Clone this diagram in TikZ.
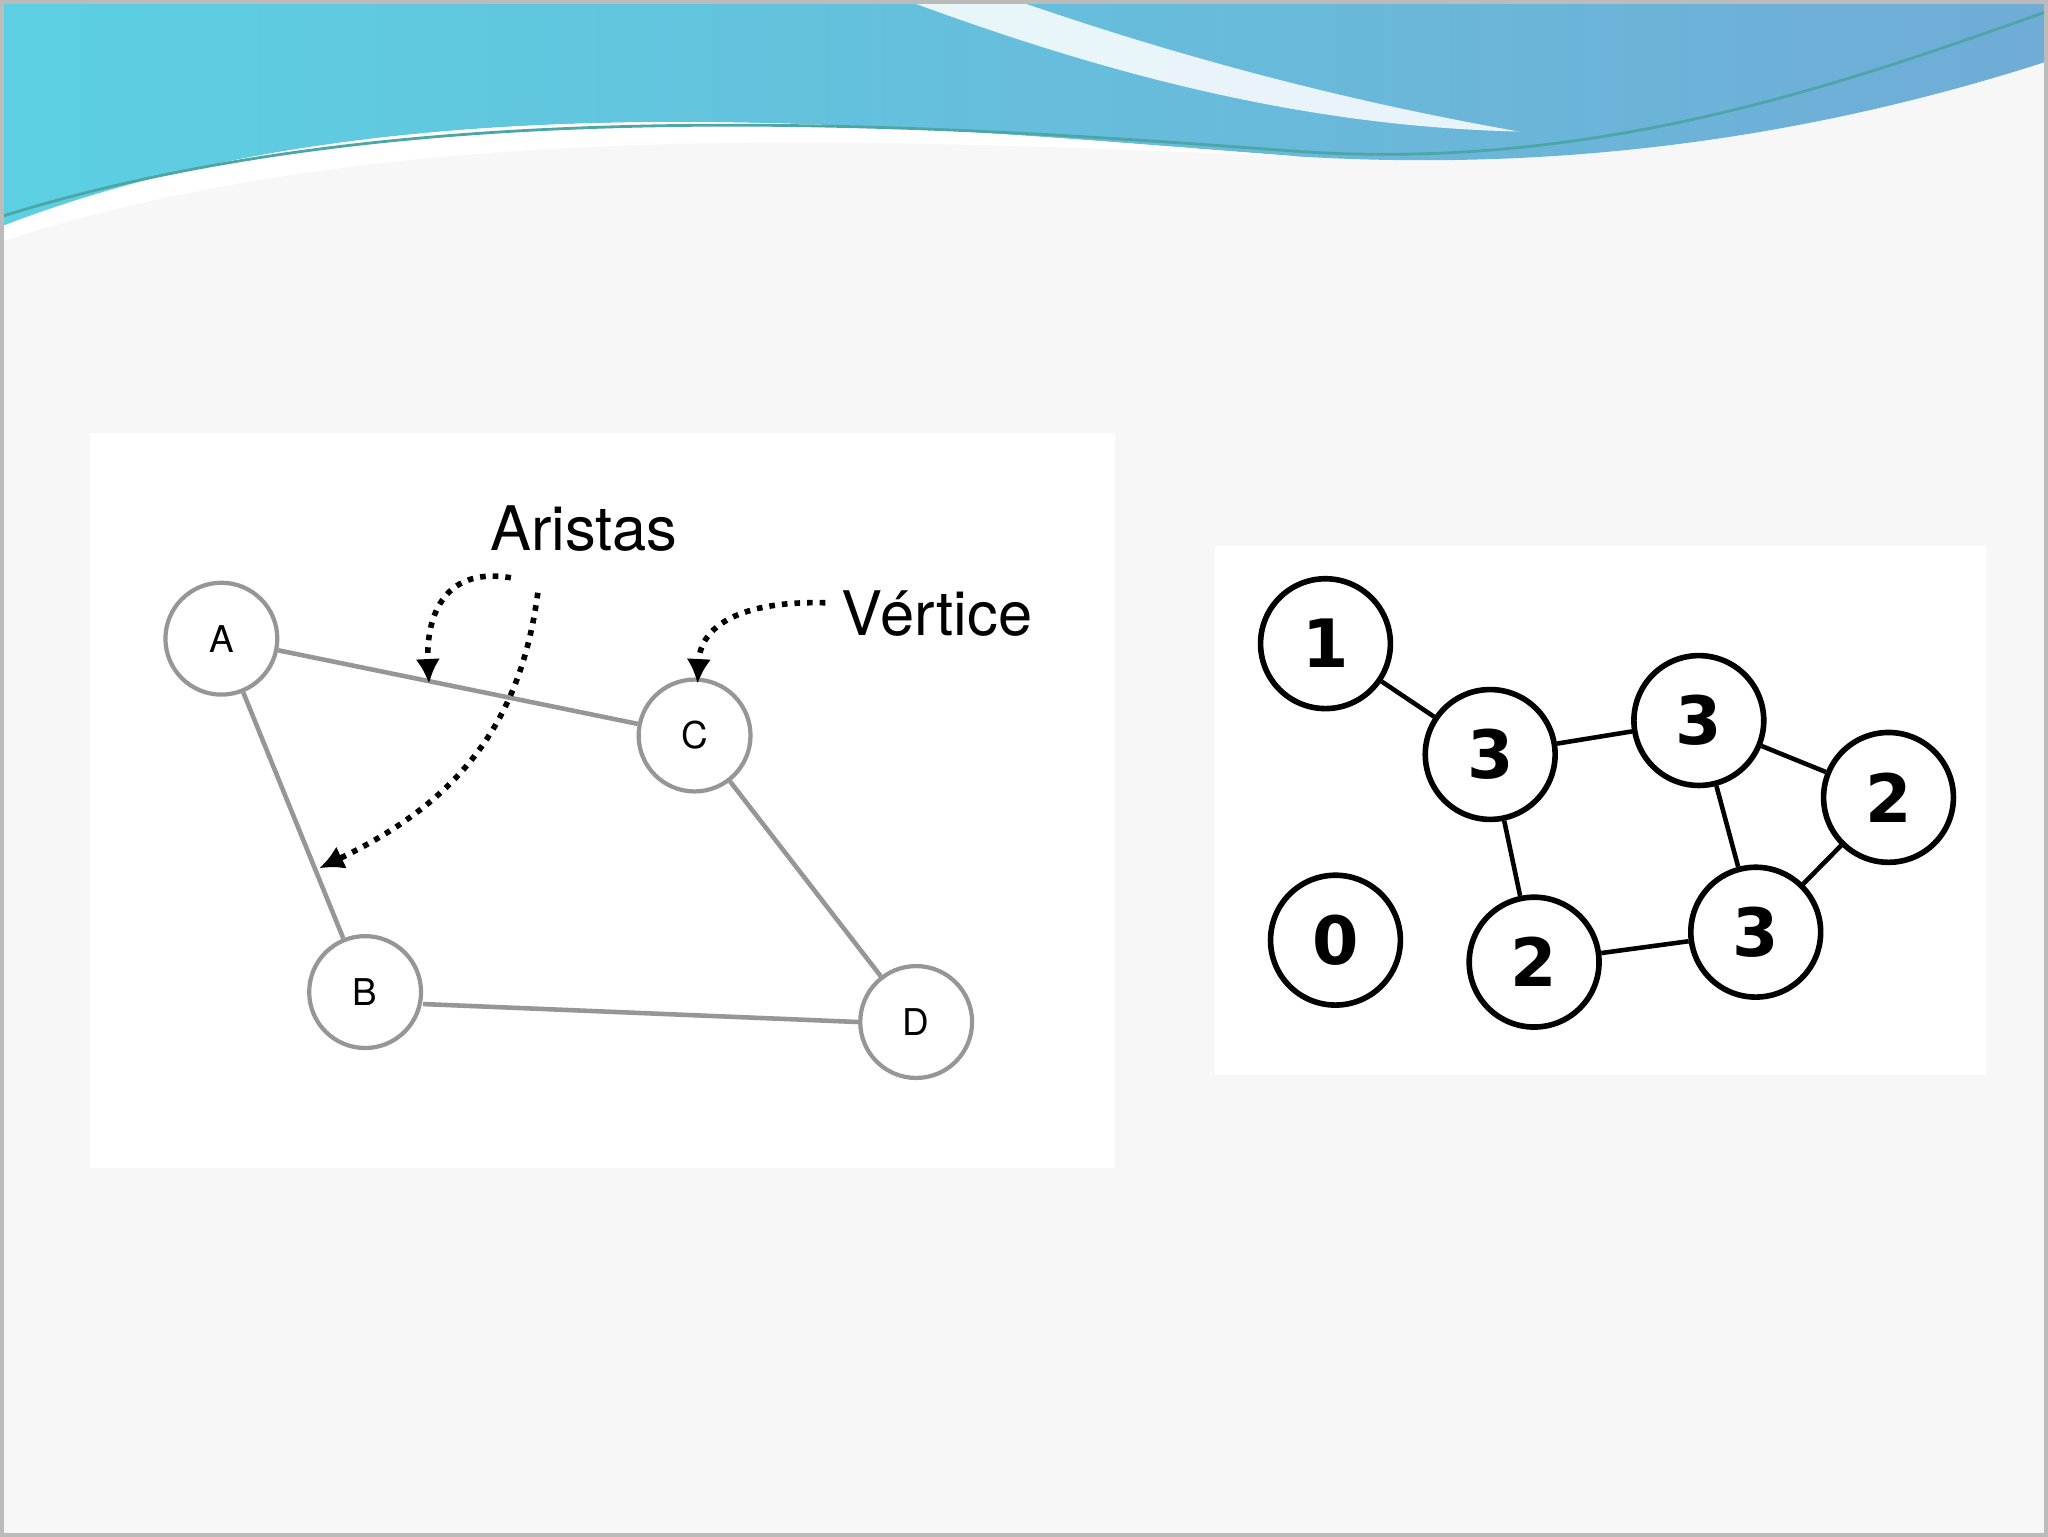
\documentclass[tikz,border=0pt]{standalone}
\usepackage{fontspec}
\setmainfont{TeX Gyre Heros}
\newfontfamily\boldfont{DejaVu Sans}
\usetikzlibrary{arrows.meta,positioning}
\definecolor{slidebg}{RGB}{247,247,247}
\definecolor{edgegray}{RGB}{150,150,150}
\definecolor{wavecyan}{RGB}{92,208,226}
\definecolor{waveblue}{RGB}{112,172,214}

\begin{document}
\begin{tikzpicture}[
    x=0.01cm, y=-0.01cm,
    vtx/.style={circle, draw=edgegray, line width=1.2pt, fill=white, minimum size=1.12cm, inner sep=0pt, font=\fontsize{10.5}{10.5}\selectfont},
    deg/.style={circle, draw=black, line width=1.6pt, fill=white, minimum size=1.3cm, inner sep=0pt, font=\boldfont\bfseries\fontsize{19}{19}\selectfont},
    edge/.style={edgegray, line width=1.3pt},
    bedge/.style={black, line width=1.3pt},
    pointer/.style={dotted, line width=1.6pt, -{Latex[length=7pt,width=7pt]}}
]
    % Slide background and header wave
    \fill[slidebg] (0,0) rectangle (2048,1536);
    \shade[left color=wavecyan, right color=waveblue]
        (0,0) -- (2048,0) -- (2048,60) .. controls (1800,140) and (1550,170) .. (1300,155)
        .. controls (900,125) and (400,70) .. (0,225) -- cycle;
    \fill[white, opacity=0.85] (910,0) .. controls (1100,70) and (1300,125) .. (1520,130)
        .. controls (1320,95) and (1150,45) .. (1020,0) -- cycle;
    \fill[white] (0,225) .. controls (400,70) and (900,125) .. (1300,155)
        .. controls (900,140) and (400,110) .. (0,240) -- cycle;
    \draw[teal!70, line width=0.8pt] (0,215) .. controls (400,90) and (900,120) .. (1300,150)
        .. controls (1600,170) and (1850,80) .. (2048,10);
    \draw[slidebg!50!gray, line width=1pt] (0,0) rectangle (2048,1536);

    % Left panel
    \fill[white] (88,432) rectangle (1115,1168);
    \node[vtx] (a) at (220,638) {A};
    \node[vtx] (b) at (364,992) {B};
    \node[vtx] (c) at (694,735) {C};
    \node[vtx] (d) at (916,1022) {D};
    \draw[edge] (a) -- (c);
    \draw[edge] (a) -- (b);
    \draw[edge] (c) -- (d);
    \draw[edge] (b.east) ++(0,12) -- (d.west);
    \node[font=\fontsize{17.5}{17.5}\selectfont] (aristas) at (583,528) {Aristas};
    \node[font=\fontsize{17.5}{17.5}\selectfont] (vertice) at (937,613) {Vértice};
    \draw[pointer] (510,577) .. controls (440,565) and (425,620) .. (428,683);
    \draw[pointer] (537,592) .. controls (520,720) and (460,800) .. (318,868);
    \draw[pointer] (825,602) .. controls (740,600) and (700,625) .. (697,683);

    % Right panel
    \fill[white] (1215,545) rectangle (1988,1075);
    \node[deg] (one) at (1326,643) {1};
    \node[deg] (threeA) at (1491,754) {3};
    \node[deg] (threeB) at (1700,720) {3};
    \node[deg] (twoA) at (1890,797) {2};
    \node[deg] (zero) at (1336,940) {0};
    \node[deg] (twoB) at (1535,962) {2};
    \node[deg] (threeC) at (1757,932) {3};
    \draw[bedge] (one) -- (threeA);
    \draw[bedge] (threeA) -- (threeB);
    \draw[bedge] (threeA) -- (twoB);
    \draw[bedge] (threeB) -- (twoA);
    \draw[bedge] (threeB) -- (threeC);
    \draw[bedge] (twoA) -- (threeC);
    \draw[bedge] (twoB) -- (threeC);
\end{tikzpicture}
\end{document}
